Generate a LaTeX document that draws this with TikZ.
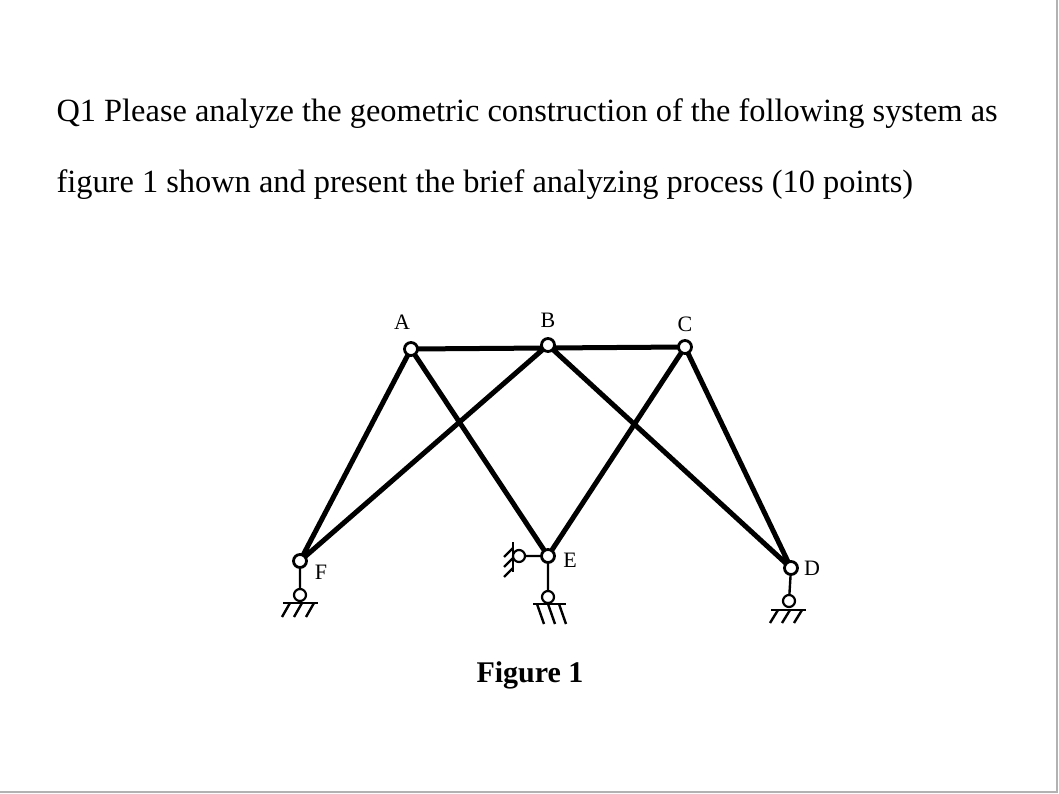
\documentclass[tikz,border=0pt]{standalone}
\usepackage{fontspec}
\setmainfont{Liberation Serif}
\begin{document}
\begin{tikzpicture}[x=1pt,y=-1pt,
  bar/.style={line width=5pt,line cap=round},
  thin/.style={line width=2.4pt},
  hinge/.style={circle,draw,line width=2.8pt,fill=white,minimum size=13pt,inner sep=0pt},
  shinge/.style={circle,draw,line width=2.2pt,fill=white,minimum size=12pt,inner sep=0pt},
  lab/.style={font=\fontsize{22}{22}\selectfont}]
\useasboundingbox (0,0) rectangle (1059,794);
\draw[gray!60,line width=1.5pt] (1057,0) -- (1057,792) -- (0,792);
\node[anchor=base west,font=\fontsize{32.4}{32}\selectfont] (t1) at (53,122) {Q1 Please analyze the geometric construction of the following system as};
\node[anchor=base west,font=\fontsize{32.4}{32}\selectfont] (t2) at (53,193) {figure 1 shown and present the brief analyzing process (10 points)};
\coordinate (A) at (411,349); \coordinate (B) at (548,345); \coordinate (C) at (685,347);
\coordinate (F) at (300,561); \coordinate (E) at (548,556); \coordinate (D) at (791,568);
\draw[bar] (A)--(C) (A)--(E) (A)--(F) (B)--(F) (B)--(D) (C)--(E) (C)--(D);
% supports
\coordinate (Fs) at (300,595); \coordinate (Es) at (548,597); \coordinate (Ds) at (789,601); \coordinate (El) at (519,556);
\draw[thin] (F)--(Fs) (E)--(Es) (D)--(Ds) (E)--(El);
\draw[thin] (283,603)--(318,603);
\foreach \x in {290,302,314} \draw[thin] (\x,603)--++(-8,14);
\draw[thin] (533,604)--(566,604);
\foreach \x in {537,548,559} \draw[thin] (\x,604)--++(7,20);
\draw[thin] (771,610)--(806,610);
\foreach \x in {778,790,802} \draw[thin] (\x,610)--++(-8,13);
\draw[thin] (513,542)--(513,572);
\foreach \y in {548,558,568} \draw[thin] (513,\y)--++(-9,9);
\node[shinge] (fs) at (Fs) {}; \node[shinge] (es) at (Es) {}; \node[shinge] (ds) at (Ds) {}; \node[shinge] (el) at (El) {};
\node[hinge] (a) at (A) {}; \node[hinge] (b) at (B) {}; \node[hinge] (c) at (C) {};
\node[hinge] (f) at (F) {}; \node[hinge] (e) at (E) {}; \node[hinge] (d) at (D) {};
\node[lab] at (402,322) {A}; \node[lab] at (548,320) {B}; \node[lab] at (685,324) {C};
\node[lab] at (321,572) {F}; \node[lab] at (570,560) {E}; \node[lab] at (812,568) {D};
\node[font=\bfseries\fontsize{30}{30}\selectfont] (fig) at (530,675) {Figure 1};
\end{tikzpicture}
\end{document}
